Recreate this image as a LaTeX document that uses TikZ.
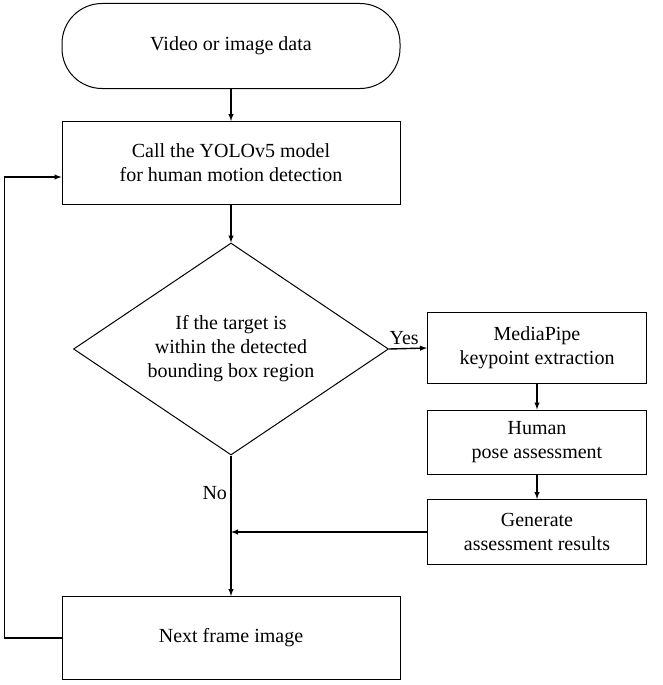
\documentclass[tikz,border=0pt]{standalone}
\usepackage{fontspec}
\setmainfont{Liberation Serif}
\usetikzlibrary{shapes.geometric}
\begin{document}
\begin{tikzpicture}[>=latex, x=1pt, y=-1pt, font=\fontsize{20}{24}\selectfont,
  blk/.style={rectangle, draw, line width=1pt, align=center, inner sep=0pt},
  flow/.style={->, line width=1.4pt}]
\useasboundingbox (0,0) rectangle (663,685);
%start
\node [blk, rounded corners=40pt, minimum width=338pt, minimum height=85pt] at (231,46) (start) {Video or image data};
%detection
\node [blk, minimum width=338pt, minimum height=83pt] at (231,163) (yolo) {Call the YOLOv5 model\\for human motion detection};
%decision
\node [diamond, draw, line width=1pt, minimum width=315pt, minimum height=212pt, inner sep=0pt, align=center, aspect=1.5] at (231,349) (check) {If the target is\\within the detected\\bounding box region};
%right branch
\node [blk, minimum width=219pt, minimum height=71pt] at (537,348) (pipe) {MediaPipe\\keypoint extraction};
\node [blk, minimum width=219pt, minimum height=64pt] at (537,442) (pose) {Human\\pose assessment};
\node [blk, minimum width=219pt, minimum height=65pt] at (537,532) (result) {Generate\\assessment results};
%next frame
\node [blk, minimum width=338pt, minimum height=83pt] at (231,638) (next) {Next frame image};
\coordinate (join) at (231,532);

\draw [flow] (start) -- (yolo);
\draw [flow] (yolo) -- (check.north);
\draw [flow] (check.east) -- node [above, pos=0.4] {Yes} (pipe.west);
\draw [flow] (pipe) -- (pose);
\draw [flow] (pose) -- (result);
\draw [flow] (result.west) -- (join);
\draw [flow] (check.south) -- node [left, pos=0.27] {No} (next.north);
\draw [flow] (next.west) -- ++(-57,0) |- ([yshift=-14pt]yolo.west);
\end{tikzpicture}
\end{document}
